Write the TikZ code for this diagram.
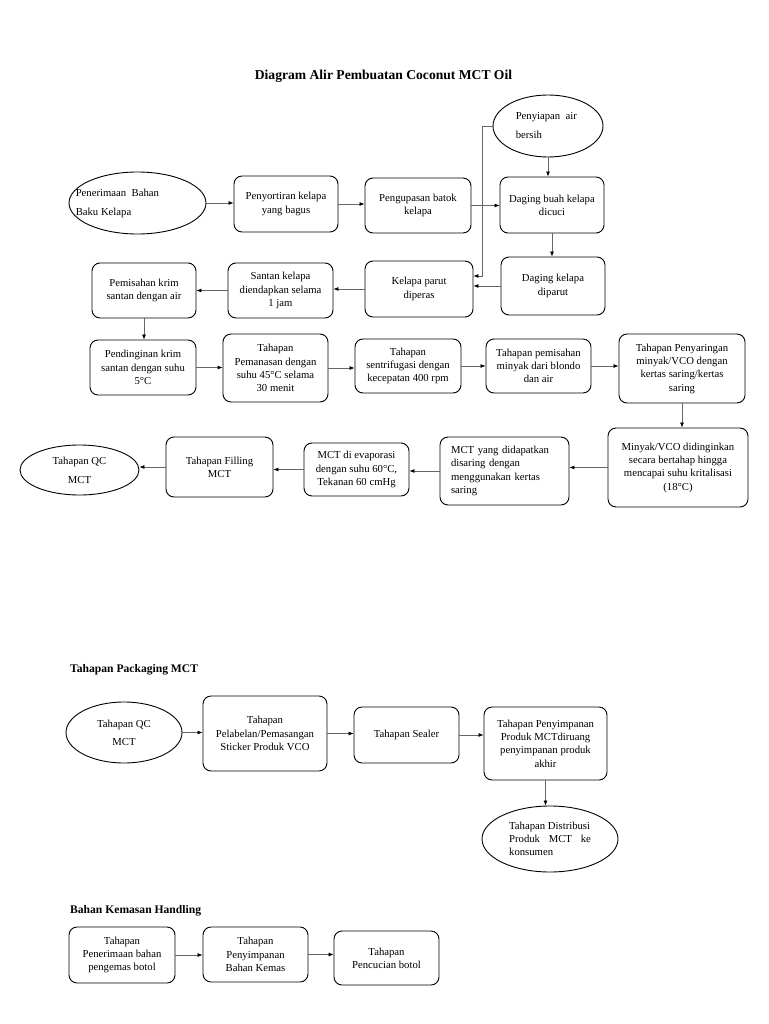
\documentclass[tikz,border=0pt]{standalone}
\usepackage{fontspec}
\setmainfont{Liberation Serif}
\usetikzlibrary{shapes.geometric,arrows.meta,calc}
\newcommand\mybody{\fontsize{10.7}{13.3}\selectfont}
\begin{document}
\begin{tikzpicture}[x=1pt,y=-1pt,
 box/.style={draw=black,line width=0.9pt,rounded corners=8pt,align=center,inner sep=2pt,font=\mybody},
 oval/.style={draw=black,line width=0.9pt,ellipse,inner sep=0pt,align=center,font=\mybody},
 sz/.style 2 args={minimum width=#1pt,minimum height=#2pt},
 lbl/.style={align=left,inner sep=0pt,anchor=west},
 arr/.style={draw=black!60,line width=0.7pt,-{Latex[length=5pt,width=4pt,black]}},
 head/.style={font=\fontsize{11.6}{14}\selectfont\bfseries,anchor=west,inner sep=0pt}]
\fill[white] (0,0) rectangle (768,1024);
\useasboundingbox (0,0) rectangle (768,1024);

% title
\node[font=\fontsize{13.6}{16}\selectfont\bfseries] (T) at (383.5,76) {Diagram Alir Pembuatan Coconut MCT Oil};

% row 1
\node[oval,sz={137}{62}] (E1) at (137.5,203) {};
\node[lbl,font=\fontsize{10.7}{19}\selectfont] (E1t) at ([xshift=7pt]E1.west) {Penerimaan\ \ Bahan\\Baku Kelapa};
\node[box,sz={104}{56}] (B1) at (286,204) {Penyortiran kelapa\\yang bagus};
\node[box,sz={106}{55}] (B2) at (418,205.5) {Pengupasan batok\\kelapa};
\node[box,sz={104}{56}] (B3) at (552,205) {Daging buah kelapa\\dicuci};
\node[oval,sz={110}{62}] (E2) at (548,126) {};
\node[lbl,font=\fontsize{10.7}{19}\selectfont] (E2t) at ([xshift=23pt]E2.west) {Penyiapan\ \ air\\bersih};

% row 2
\node[box,sz={104}{58}] (B4) at (553,286) {Daging kelapa\\diparut};
\node[box,sz={108}{56}] (B5) at (419,289) {Kelapa parut\\diperas};
\node[box,sz={105}{55}] (B6) at (280.5,290.5) {Santan kelapa\\diendapkan selama\\1 jam};
\node[box,sz={104}{55}] (B7) at (144,290.5) {Pemisahan krim\\santan dengan air};

% row 3
\node[box,sz={106}{55}] (B8) at (143,367.5) {Pendinginan krim\\santan dengan suhu\\5°C};
\node[box,sz={105}{68}] (B9) at (275.5,368) {Tahapan\\Pemanasan dengan\\suhu 45°C selama\\30 menit};
\node[box,sz={106}{54}] (B10) at (408,366) {Tahapan\\sentrifugasi dengan\\kecepatan 400 rpm};
\node[box,sz={105}{54}] (B11) at (538.5,366) {Tahapan pemisahan\\minyak dari blondo\\dan air};
\node[box,sz={126}{69}] (B12) at (682,368.5) {Tahapan Penyaringan\\minyak/VCO dengan\\kertas saring/kertas\\saring};

% row 4
\node[box,sz={140}{79}] (B13) at (678,467.5) {Minyak/VCO didinginkan\\secara bertahap hingga\\mencapai suhu kritalisasi\\(18°C)};
\node[box,minimum height=68pt,text width=107pt,inner xsep=11pt,align=left] (B14) at (504.5,471) {MCT yang didapatkan\\disaring dengan\\menggunakan kertas\\saring};
\node[box,sz={105}{53}] (B15) at (356.5,469.5) {MCT di evaporasi\\dengan suhu 60°C,\\Tekanan 60 cmHg};
\node[box,sz={107}{60}] (B16) at (219.5,467) {Tahapan Filling\\MCT};
\node[oval,sz={119}{50},font=\fontsize{10.7}{19}\selectfont] (E3) at (79.5,470) {Tahapan QC\\MCT};

% packaging
\node[head] (H1) at (70,670) {Tahapan Packaging MCT};
\node[oval,sz={116}{61},font=\fontsize{10.7}{18}\selectfont] (E4) at (124,732.5) {Tahapan QC\\MCT};
\node[box,sz={124}{75}] (B17) at (265,733.5) {Tahapan\\Pelabelan/Pemasangan\\Sticker Produk VCO};
\node[box,sz={105}{56}] (B18) at (406.5,735) {Tahapan Sealer};
\node[box,sz={123}{73}] (B19) at (545.5,743.5) {Tahapan Penyimpanan\\Produk MCTdiruang\\penyimpanan produk\\akhir};
\node[oval,sz={136}{66},align=left] (E5) at (550,839) {Tahapan Distribusi\\\hbox to 81.7pt{Produk\hfill MCT\hfill ke}\\konsumen};

% handling
\node[head] (H2) at (70,911) {Bahan Kemasan Handling};
\node[box,sz={106}{56}] (B20) at (122,955) {Tahapan\\Penerimaan bahan\\pengemas botol};
\node[box,sz={105}{55}] (B21) at (255.5,954.5) {Tahapan\\Penyimpanan\\Bahan Kemas};
\node[box,sz={105}{54}] (B22) at (386.5,958) {Tahapan\\Pencucian botol};

% connectors
\draw[arr] (E1.east) -- (E1.east -| B1.west);
\draw[arr] (B1.east) -- (B1.east -| B2.west);
\draw[arr] (B2.east) -- (B2.east -| B3.west);
\draw[arr] (E2.south) -- (E2.south |- B3.north);
\draw[arr] (E2.west) -- ++(-10,0) |- ([yshift=13pt]B5.east);
\draw[arr] (B3.south) -- (B3.south |- B4.north);
\draw[arr] (B4.west) -- (B4.west -| B5.east);
\draw[arr] (B5.west) -- (B5.west -| B6.east);
\draw[arr] (B6.west) -- (B6.west -| B7.east);
\draw[arr] (B7.south) -- (B7.south |- B8.north);
\draw[arr] (B8.east) -- (B8.east -| B9.west);
\draw[arr] (B9.east) -- (B9.east -| B10.west);
\draw[arr] (B10.east) -- (B10.east -| B11.west);
\draw[arr] (B11.east) -- (B11.east -| B12.west);
\draw[arr] (B12.south) -- (B12.south |- B13.north);
\draw[arr] (B13.west) -- (B13.west -| B14.east);
\draw[arr] (B14.west) -- (B14.west -| B15.east);
\draw[arr] (B15.west) -- (B15.west -| B16.east);
\draw[arr] (B16.west) -- (B16.west -| E3.east);
\draw[arr] (E4.east) -- (E4.east -| B17.west);
\draw[arr] (B17.east) -- (B17.east -| B18.west);
\draw[arr] (B18.east) -- (B18.east -| B19.west);
\draw[arr] (B19.south) -- (B19.south |- E5.north);
\draw[arr] (B20.east) -- (B20.east -| B21.west);
\draw[arr] (B21.east) -- (B21.east -| B22.west);
\end{tikzpicture}
\end{document}
